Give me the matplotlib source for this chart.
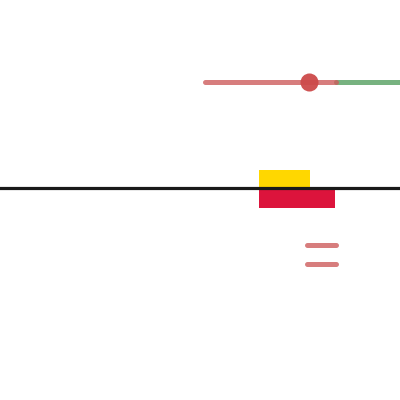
import numpy as np
import matplotlib.pyplot as plt

# --- data (pixel-like units on a 0..400 canvas) ---
range_start = 205
range_end = 336
range_point = 309
range_y = 82
extend_start = 336
extend_end = 400

bar_left = 259
bar_top_width = 51
bar_bottom_width = 76
bar_top_height = 18
bar_bottom_height = 20
baseline_y = 187.5

tick_y = [244.5, 264]
tick_start = 307
tick_end = 336

fig = plt.figure(figsize=(4, 4), dpi=100)
ax = fig.add_axes([0, 0, 1, 1])
ax.set_xlim(0, 400)
ax.set_ylim(400, 0)
ax.axis('off')

# bars around the baseline
ax.barh(baseline_y - bar_top_height / 2, bar_top_width, height=bar_top_height,
        left=bar_left, color='#FFD700', zorder=2)
ax.barh(baseline_y + bar_bottom_height / 2, bar_bottom_width, height=bar_bottom_height,
        left=bar_left, color='#DC143C', zorder=2)
ax.axhline(baseline_y, color='#1a1a1a', lw=2.3, zorder=3)

# range line with marker
ax.plot([extend_start, extend_end], [range_y, range_y], color='#5fa56a', alpha=0.85,
        lw=3.6, solid_capstyle='round', zorder=2)
ax.plot([range_start, range_end], [range_y, range_y], color='#cd5c5c', alpha=0.8,
        lw=3.6, solid_capstyle='round', zorder=3)
ax.plot([range_point], [range_y], 'o', color='#cd4a4a', alpha=0.95, ms=13, mew=0, zorder=4)

# short ticks
for y in tick_y:
    ax.plot([tick_start, tick_end], [y, y], color='#cd5c5c', alpha=0.8,
            lw=3.6, solid_capstyle='round')

fig.savefig('out.png', dpi=100)
